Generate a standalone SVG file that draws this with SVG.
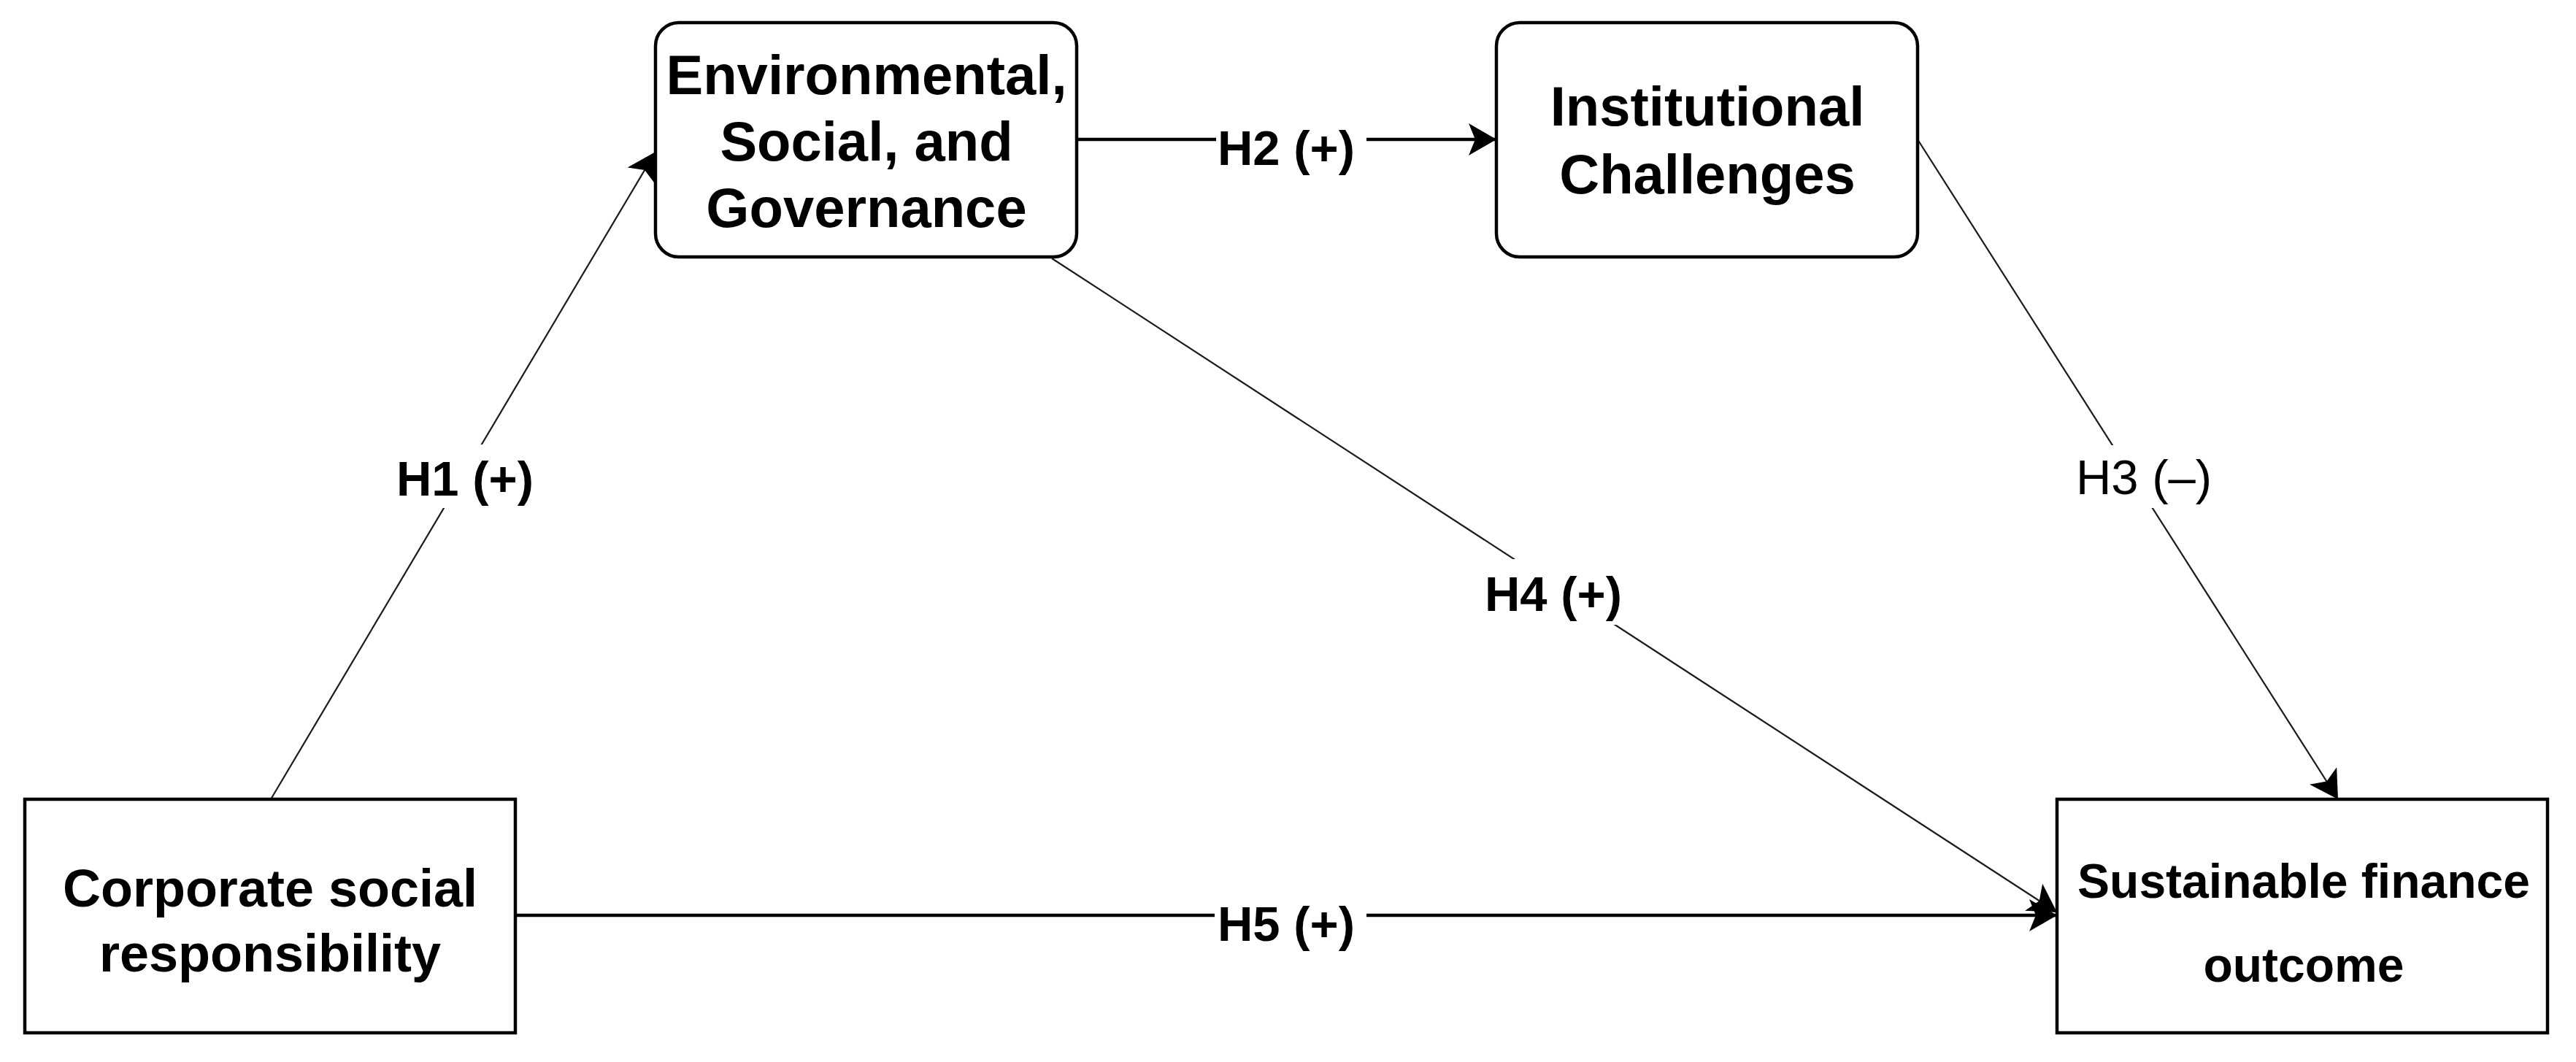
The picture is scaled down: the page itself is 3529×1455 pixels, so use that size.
<svg xmlns="http://www.w3.org/2000/svg" width="3529" height="1455" viewBox="0 0 3529 1455">
<defs>
<marker id="arr" markerUnits="userSpaceOnUse" markerWidth="46" markerHeight="50" viewBox="-42 -25 46 50" refX="0" refY="0" orient="auto">
<path d="M0,0 L-38,-22 L-29,0 L-38,22 Z" fill="#000"/>
</marker>
<style>
.box{fill:#fff;stroke:#000;stroke-width:4.5}
.nt{font-family:"Liberation Sans",Arial,sans-serif;font-weight:bold;text-anchor:middle;fill:#000}
.thin{stroke:#1a1a1a;stroke-width:2.2;fill:none}
.thick{stroke:#000;stroke-width:4.5;fill:none}
.lbl{font-family:"Liberation Sans",Arial,sans-serif;font-size:67px;font-weight:bold;text-anchor:middle;fill:#000}
.lblr{font-weight:normal}
.bg{fill:#fff}
</style>
</defs>
<rect width="3529" height="1455" fill="#fff"/>
<g id="connectors">
<line class="thin" x1="371" y1="1095" x2="898" y2="208" marker-end="url(#arr)"/>
<line class="thick" x1="1475" y1="191" x2="2050" y2="191" marker-end="url(#arr)"/>
<line class="thin" x1="2627" y1="191" x2="3203" y2="1095" marker-end="url(#arr)"/>
<line class="thin" x1="1441" y1="354" x2="2818" y2="1250" marker-end="url(#arr)"/>
<line class="thick" x1="706" y1="1254" x2="2818" y2="1254" marker-end="url(#arr)"/>
<rect class="bg" x="539" y="609" width="196" height="87"/>
<text class="lbl" x="637" y="679">H1 (+)</text>
<rect class="bg" x="1666" y="160" width="206" height="90"/>
<text class="lbl" x="1762" y="226">H2 (+)</text>
<rect class="bg" x="2838" y="610" width="198" height="86"/>
<text class="lbl lblr" x="2937" y="677">H3 (–)</text>
<rect class="bg" x="2030" y="766" width="196" height="90"/>
<text class="lbl" x="2128" y="837">H4 (+)</text>
<rect class="bg" x="1664" y="1224" width="208" height="86"/>
<text class="lbl" x="1762" y="1289">H5 (+)</text>
</g>
<g id="node-esg">
<rect class="box" x="898" y="31" width="577" height="321" rx="32" ry="32"/>
<text class="nt" font-size="76" x="1187" y="129">Environmental,</text>
<text class="nt" font-size="76" x="1187" y="220">Social, and</text>
<text class="nt" font-size="76" x="1187" y="311">Governance</text>
</g>
<g id="node-institutional">
<rect class="box" x="2050" y="31" width="577" height="321" rx="32" ry="32"/>
<text class="nt" font-size="76" x="2339" y="172">Institutional</text>
<text class="nt" font-size="76" x="2339" y="265">Challenges</text>
</g>
<g id="node-csr">
<rect class="box" x="34" y="1095" width="672" height="320"/>
<text class="nt" font-size="72" x="370" y="1242">Corporate social</text>
<text class="nt" font-size="72" x="370" y="1331">responsibility</text>
</g>
<g id="node-sfo">
<rect class="box" x="2818" y="1095" width="672" height="320"/>
<text class="nt" font-size="66" x="3156" y="1230">Sustainable finance</text>
<text class="nt" font-size="66" x="3156" y="1345">outcome</text>
</g>
</svg>
